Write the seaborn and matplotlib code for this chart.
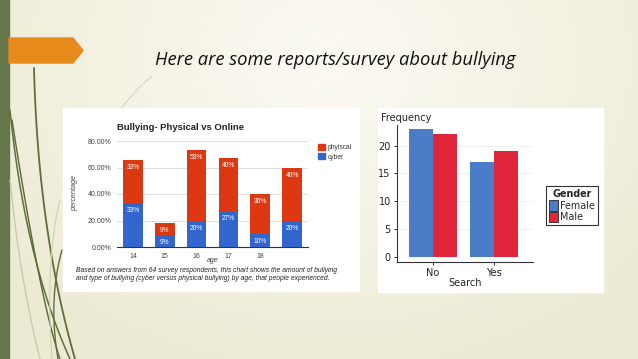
import numpy as np
import pandas as pd
import seaborn as sns
import matplotlib.pyplot as plt
from matplotlib.patches import Rectangle, Polygon, Patch

sns.set_style("white")
plt.rcParams["font.family"] = ["Liberation Sans", "DejaVu Sans"]

# data: left chart (Google chart, stacked %)
ages = ["14", "15", "16", "17", "18", " "]
cyber = [33, 9, 20, 27, 10, 20]
physical = [33, 9, 53, 40, 30, 40]
pct_ticks = [0, 20, 40, 60, 80]

# data: right chart (SPSS clustered bars)
search = ["No", "Yes"]
female = [23, 17]
male = [22, 19]
freq_ticks = [0, 5, 10, 15, 20]

RED = "#dc3912"
BLUE = "#3366cc"
F_BLUE = "#4a7cc8"
M_RED = "#e0263a"

W, H = 638, 359
fig = plt.figure(figsize=(W / 100, H / 100), dpi=100)


def fx(px):
    return px / W


def fy(py):
    return 1 - py / H


# slide background in pixel coords
bg = fig.add_axes([0, 0, 1, 1])
bg.set_xlim(0, W)
bg.set_ylim(H, 0)
bg.axis("off")
yy, xx = np.mgrid[0:H, 0:W]
r = np.sqrt(((xx - 330) / 420) ** 2 + ((yy - 60) / 330) ** 2)
grad = np.clip(r, 0, 1)
c0 = np.array([0.985, 0.98, 0.955])
c1 = np.array([0.93, 0.92, 0.83])
img = c0 + (c1 - c0) * grad[..., None]
bg.imshow(img, extent=(0, W, H, 0), aspect="auto", zorder=0)

bg.add_patch(Rectangle((0, 0), 9, H, color="#66764b", zorder=1))
bg.add_patch(Polygon([(9, 38), (73, 38), (83, 50.5), (73, 63), (9, 63)],
                     color="#e8891b", zorder=1))

# decorative grass curves
t = np.linspace(0, 1, 100)
curves = [
    ((34, 68), (38, 230), (75, 359), "#5e6e3c", 1.3),
    ((10, 110), (25, 260), (70, 359), "#5e6e3c", 1.1),
    ((12, 120), (40, 300), (60, 359), "#56673a", 1.0),
    ((62, 250), (48, 300), (58, 359), "#5e6e3c", 1.0),
    ((10, 180), (20, 280), (40, 359), "#c9cba9", 1.0),
    ((120, 110), (135, 90), (152, 76), "#d8d6bd", 0.8),
    ((60, 200), (45, 260), (52, 359), "#cfd1b0", 0.8),
]
for (x0, y0), (xc, yc), (x1, y1), col, lw in curves:
    cx = (1 - t) ** 2 * x0 + 2 * (1 - t) * t * xc + t ** 2 * x1
    cy = (1 - t) ** 2 * y0 + 2 * (1 - t) * t * yc + t ** 2 * y1
    bg.plot(cx, cy, color=col, lw=lw, zorder=1)

# white panels
bg.add_patch(Rectangle((63, 108), 296, 183, color="white", zorder=2))
bg.add_patch(Rectangle((378, 108), 225, 184, color="white", zorder=2))

fig.text(fx(155), fy(60), "Here are some reports/survey about bullying",
         fontsize=13.2, style="italic", family=["Open Sans", "DejaVu Sans"],
         color="#111111", va="center", ha="left")

# ---- left chart ----
df = pd.DataFrame({"age": ages, "cyber": cyber, "physical": physical})
df["total"] = df["cyber"] + df["physical"]

ax1 = fig.add_axes([fx(117), fy(247), fx(308) - fx(117), fy(141) - fy(247)])
ax1.set_facecolor("none")
sns.barplot(data=df, x="age", y="total", order=ages, color=RED, linewidth=0,
            saturation=1, width=0.62, ax=ax1, zorder=3)
sns.barplot(data=df, x="age", y="cyber", order=ages, color=BLUE, linewidth=0,
            saturation=1, width=0.62, ax=ax1, zorder=3)
for i, (c, p) in enumerate(zip(cyber, physical)):
    ax1.annotate(f"{p}%", (i, c + p), xytext=(0, -3), textcoords="offset points",
                 ha="center", va="top", color="white", fontsize=4.8)
    ax1.annotate(f"{c}%", (i, c), xytext=(0, -3), textcoords="offset points",
                 ha="center", va="top", color="white", fontsize=4.8)
ax1.set_ylim(0, 80)
ax1.set_xlim(-0.5, len(ages) - 0.5)
ax1.set_yticks(pct_ticks)
ax1.set_yticklabels([f"{v:.2f}%" for v in pct_ticks])
ax1.yaxis.grid(True, color="#d9d9d9", lw=0.6)
ax1.set_axisbelow(True)
for s in ["top", "right", "left"]:
    ax1.spines[s].set_visible(False)
ax1.spines["bottom"].set_color("#333333")
ax1.spines["bottom"].set_linewidth(0.8)
ax1.tick_params(length=0, labelsize=5, labelcolor="#444444", pad=4)
ax1.set_xlabel("")
ax1.set_ylabel("")
fig.text(fx(213), fy(260), "age", fontsize=5, style="italic",
         color="#444444", ha="center", va="center")
fig.text(fx(75), fy(193), "percentage", fontsize=5.2, style="italic",
         color="#444444", ha="center", va="center", rotation=90)
fig.text(fx(117), fy(127), "Bullying- Physical vs Online", fontsize=6.8,
         weight="bold", color="#222222", ha="left", va="center")
fig.text(fx(76), fy(270), "Based on answers from 64 survey respondents, this chart shows the amount of bullying",
         fontsize=4.9, style="italic", color="#222222", ha="left", va="center")
fig.text(fx(76), fy(279), "and type of bullying (cyber versus physical bullying) by age, that people experienced.",
         fontsize=4.9, style="italic", color="#222222", ha="left", va="center")
ax1.legend(handles=[Patch(color=RED, label="phyiscal"), Patch(color=BLUE, label="cyber")],
           loc="upper left", bbox_to_anchor=(fx(312), fy(138)), bbox_transform=fig.transFigure,
           frameon=False, fontsize=4.8, handlelength=1.0, handleheight=1.0,
           handletextpad=0.5, labelspacing=0.3, labelcolor="#333333")

# ---- right chart ----
df2 = pd.DataFrame({
    "Search": search * 2,
    "Frequency": female + male,
    "Gender": ["Female"] * len(search) + ["Male"] * len(search),
})
ax2 = fig.add_axes([fx(397), fy(262), fx(533) - fx(397), fy(125) - fy(262)])
ax2.set_facecolor("none")
sns.barplot(data=df2, x="Search", y="Frequency", hue="Gender", order=search,
            hue_order=["Female", "Male"], palette=[F_BLUE, M_RED], linewidth=0,
            saturation=1, width=0.8, ax=ax2, legend=False, zorder=3)
ax2.set_xlim(-0.59, 1.64)
ax2.set_ylim(-0.9, 23.7)
ax2.set_yticks(freq_ticks)
for v in freq_ticks[1:]:
    ax2.axhline(v, color="#eeeeee", lw=0.6, zorder=1)
for s in ["top", "right"]:
    ax2.spines[s].set_visible(False)
for s in ["left", "bottom"]:
    ax2.spines[s].set_color("#333333")
    ax2.spines[s].set_linewidth(0.8)
ax2.tick_params(axis="both", direction="out", length=2.5, width=0.7,
                labelsize=7, labelcolor="#222222", pad=2, left=True, bottom=True)
ax2.set_xlabel("Search", fontsize=7, color="#222222", labelpad=0,
               family=["DejaVu Sans"])
ax2.set_ylabel("")
for lab in ax2.get_xticklabels() + ax2.get_yticklabels():
    lab.set_family(["DejaVu Sans"])
fig.text(fx(381), fy(118), "Frequency", fontsize=7, color="#222222",
         ha="left", va="center", family=["DejaVu Sans"])
leg = ax2.legend(handles=[Patch(facecolor=F_BLUE, edgecolor="#222222", lw=0.6, label="Female"),
                          Patch(facecolor=M_RED, edgecolor="#222222", lw=0.6, label="Male")],
                 title="Gender", loc="upper left", bbox_to_anchor=(fx(541), fy(181)),
                 bbox_transform=fig.transFigure, title_fontsize=6.9,
                 handlelength=1.0, handleheight=1.3, handletextpad=0.2,
                 labelspacing=0.15, borderpad=0.3, fancybox=False, framealpha=1,
                 edgecolor="#333333", prop={"family": "DejaVu Sans", "size": 6.9})
leg.get_title().set_fontweight("bold")
leg.get_title().set_family("DejaVu Sans")
leg.get_frame().set_linewidth(0.8)

fig.savefig("out.png", dpi=100)
